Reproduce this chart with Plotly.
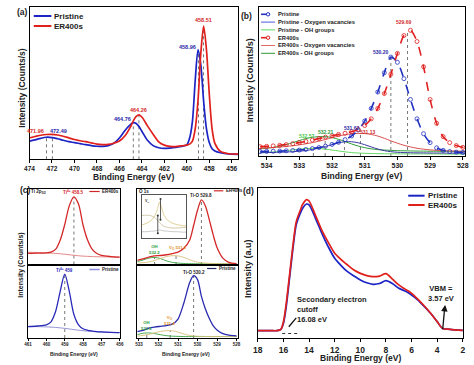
import plotly.graph_objects as go

W, H = 474, 365
FONT = "Liberation Sans, Arial, sans-serif"
TXT = "#222222"

# ---------------- panel (a): Ti 2p ----------------
a_x = [474.3, 474, 473.5, 473, 472.5, 472, 471.5, 471, 470.5, 470, 469.5, 469, 468.5, 468,
       467.5, 467, 466.5, 466, 465.5, 465, 464.75, 464.5, 464.25, 464, 463.5, 463, 462.5, 462,
       461.5, 461, 460.5, 460, 459.75, 459.5, 459.25, 459, 458.75, 458.5, 458.25, 458, 457.75,
       457.5, 457, 456.5, 456, 455.4]
a_pristine = [11.6, 12.0, 12.8, 13.8, 14.5, 14.3, 13.5, 12.5, 11.6, 11.0, 10.3, 9.6, 9.0, 8.6,
              8.5, 9.0, 10.5, 14.0, 19.0, 23.0, 24.1, 23.5, 21.5, 18.5, 12.5, 9.0, 7.6, 7.2,
              7.4, 7.8, 8.5, 9.5, 14, 25, 52, 72, 62, 38, 20, 11, 7.0,
              5.5, 4.3, 3.7, 3.4, 3.3]
a_er400s = [13.8, 14.2, 15.0, 15.8, 16.3, 16.4, 16.0, 15.2, 14.1, 13.0, 12.2, 11.6, 10.8, 10.0,
            9.7, 9.8, 10.6, 12.0, 15.5, 21.5, 25.5, 28.3, 29.2, 27.8, 22, 16.5, 11.5, 9.3,
            8.5, 8.3, 8.8, 9.3, 10, 12, 20, 39, 70, 87.7, 72, 43, 20,
            10.5, 5.2, 4.0, 3.5, 3.4]
a_peaks_pristine = [472.49, 464.76, 458.96]
a_heights_pristine = [14.5, 24.1, 72]
a_peaks_er400s = [471.96, 464.26, 458.51]
a_heights_er400s = [16.4, 29.2, 87.7]
a_ticks = [474, 472, 470, 468, 466, 464, 462, 460, 458, 456]

# ---------------- panel (b): O 1s ----------------
b_x = [534.2, 534.0, 533.8, 533.6, 533.4, 533.2, 533.0, 532.8, 532.6, 532.4, 532.2, 532.0,
       531.8, 531.6, 531.4, 531.2, 531.0, 530.8, 530.6, 530.4, 530.2, 530.0, 529.8, 529.6,
       529.4, 529.2, 529.0, 528.8, 528.6, 528.4, 528.2, 528.0, 527.8]
b_pristine = [3.0, 3.1, 3.2, 3.3, 3.5, 3.7, 4.0, 4.4, 5.0, 5.7, 6.6, 7.8, 9.2, 11.0, 13.5, 17.5,
              23.5, 32, 43, 56, 66.5, 63, 52, 38, 25, 15, 9, 5.5, 3.8, 3.0, 2.6, 2.4, 2.3]
b_pristine_ov = [2.2, 2.3, 2.4, 2.5, 2.7, 2.9, 3.2, 3.7, 4.4, 5.3, 6.4, 7.6, 8.8, 9.6, 9.6, 8.9,
                 7.6, 6.1, 4.7, 3.6, 2.9, 2.5, 2.3, 2.2, 2.1, 2.1, 2.0, 2.0, 2.0, 1.9, 1.9, 1.9, 1.9]
b_pristine_oh = [2.2, 2.4, 2.7, 3.1, 3.6, 4.1, 4.6, 5.0, 5.1, 5.0, 4.6, 4.0, 3.4, 2.8, 2.3, 2.0,
                 1.8, 1.7, 1.6, 1.5, 1.5, 1.5, 1.4, 1.4, 1.4, 1.4, 1.4, 1.4, 1.3, 1.3, 1.3, 1.3, 1.3]
b_er400s = [6.3, 6.5, 6.8, 7.2, 7.7, 8.3, 9.0, 9.8, 10.7, 11.7, 12.7, 13.6, 14.5, 15.3, 16.3, 17.8,
            20.5, 25, 32, 42, 55, 69, 81, 84.5, 77, 60, 38, 22, 13, 9, 7.0, 5.8, 5.3]
b_er400s_ov = [5.2, 5.4, 5.7, 6.0, 6.4, 6.9, 7.5, 8.2, 9.0, 10.0, 11.1, 12.3, 13.4, 14.3, 14.9, 15.2,
               15.1, 14.5, 13.4, 11.9, 10.2, 8.6, 7.2, 6.1, 5.2, 4.6, 4.1, 3.8, 3.6, 3.4, 3.3, 3.2, 3.2]
b_er400s_oh = [4.8, 5.2, 5.8, 6.6, 7.7, 9.0, 10.4, 11.7, 12.6, 13.0, 13.0, 12.4, 11.2, 9.7, 8.1, 6.7,
               5.6, 4.8, 4.3, 4.0, 3.8, 3.6, 3.5, 3.4, 3.3, 3.3, 3.2, 3.2, 3.1, 3.1, 3.1, 3.0, 3.0]
b_peaks = [532.57, 532.21, 531.62, 531.13, 530.20, 529.69]
b_heights = [5.1, 13.0, 9.6, 15.2, 66.5, 84.5]
b_ticks = [534, 533, 532, 531, 530, 529, 528]

# ---------------- panel (c): Ti 2p3/2 and O 1s fits ----------------
c_ti_x = [461, 460.5, 460, 459.75, 459.5, 459.25, 459, 458.75, 458.5, 458.25, 458, 457.75,
          457.5, 457.25, 457, 456.5, 456]
c_ti_er400s = [14.7, 15.0, 15.5, 16.5, 20, 32, 53, 78, 89.5, 80, 52, 32, 20, 14.5, 12, 10.5, 9.8]
c_ti_er400s_bg = [16.2, 15.9, 15.4, 15.1, 14.7, 14.2, 13.6, 12.9, 12.2, 11.6, 11.1, 10.8, 10.5,
                  10.3, 10.2, 10.0, 9.8]
c_ti_pristine = [15.5, 16.3, 18.0, 22, 36, 63, 87, 63, 32, 18, 12.5, 10.5, 9.5, 8.8, 8.3, 7.7, 7.3]
c_ti_pristine_bg = [15.8, 15.5, 15.1, 14.8, 14.4, 13.8, 13.1, 12.3, 11.4, 10.6, 9.9, 9.3, 8.8,
                    8.4, 8.1, 7.6, 7.3]
c_ti_ticks = [461, 460, 459, 458, 457, 456]

c_o_x = [533.1, 532.8, 532.5, 532.2, 531.9, 531.6, 531.3, 531.0, 530.7, 530.4, 530.2, 530.0,
         529.8, 529.6, 529.4, 529.2, 529.0, 528.7, 528.4, 528.0]
c_o_er400s = [6, 8, 10.5, 12, 12.5, 13.5, 15, 17, 22, 33, 52, 72, 85.7, 78, 60, 40, 23, 9, 3.5, 1.8]
c_o_er400s_oh = [4.5, 6.5, 9, 10, 8.5, 5.5, 3.5, 2.5, 2, 1.8, 1.7, 1.6, 1.6, 1.5, 1.5, 1.5, 1.5,
                 1.5, 1.5, 1.5]
c_o_er400s_vo = [2.5, 3, 4, 6, 8.5, 11, 12.3, 12, 10, 7, 5, 3.7, 3, 2.5, 2.2, 2, 1.8, 1.6, 1.5, 1.5]
c_o_pristine = [8.6, 10.5, 13.5, 15, 16, 17, 19, 26, 48, 76, 85.3, 80, 57, 40, 27, 17, 11, 6, 4, 3]
c_o_pristine_oh = [4.5, 6.5, 7, 6, 4.5, 3.2, 2.5, 2.2, 2, 2, 2, 2, 2, 2, 2, 2, 2, 2, 2, 2]
c_o_pristine_vo = [2.5, 3.5, 5, 7, 9, 10, 10, 8, 5.5, 3.5, 2.8, 2.4, 2.2, 2.1, 2, 2, 2, 2, 2, 2]
c_o_ticks = [533, 532, 531, 530, 529, 528]

inset_x = [0, 0.1, 0.2, 0.3, 0.35, 0.4, 0.45, 0.5, 0.6, 0.7, 0.8, 0.9, 1.0]
inset_a = [0.32, 0.36, 0.42, 0.56, 0.70, 0.88, 0.72, 0.56, 0.42, 0.36, 0.33, 0.31, 0.30]
inset_b = [0.55, 0.56, 0.55, 0.50, 0.44, 0.38, 0.33, 0.29, 0.26, 0.25, 0.25, 0.26, 0.27]
inset_c = [0.16, 0.16, 0.17, 0.18, 0.19, 0.20, 0.19, 0.18, 0.17, 0.16, 0.16, 0.15, 0.15]

# ---------------- panel (d): UPS ----------------
d_x = [18, 17, 16.5, 16.2, 16, 15.8, 15.5, 15.2, 15, 14.7, 14.5, 14.2, 14, 13.5, 13, 12.5, 12,
       11.5, 11, 10.5, 10, 9.5, 9, 8.5, 8, 7.5, 7, 6.5, 6, 5.5, 5, 4.5, 4, 3.57, 3, 2]
d_pristine = [5.1, 5.1, 5.1, 6, 10, 20, 42, 64, 75.6, 83, 86.7, 89.5, 88.9, 80, 70, 61, 53.3,
              48.5, 44.4, 41.5, 38.9, 37, 36, 36.5, 38.4, 36.5, 33.3, 31.5, 28.9, 25.5, 21.1,
              16.5, 11.1, 6.5, 6.0, 5.3]
d_er400s = [5.1, 5.1, 5.1, 6, 11, 22, 44, 66, 77.8, 85, 89.3, 92.5, 91.5, 82, 72, 64, 56.7,
            52.5, 48.9, 45.5, 43.3, 41.8, 41.1, 41.5, 43.1, 39.5, 35.6, 32.8, 30, 26, 21.5,
            16.5, 11.1, 6.5, 6.0, 5.3]
d_ticks = [18, 16, 14, 12, 10, 8, 6, 4, 2]

BLUE = "#1c24c4"
RED = "#e0201c"
GRAY = "#777777"


def px(x):
    return x / W


def py(y):
    return 1 - y / H


fig = go.Figure()
shapes = []
anns = []


def line(x, y, xa, ya, color, width=1.6, dash="solid"):
    fig.add_trace(go.Scatter(x=x, y=y, xaxis=xa, yaxis=ya, mode="lines", showlegend=False,
                             hoverinfo="skip",
                             line=dict(color=color, width=width, dash=dash, shape="spline",
                                       smoothing=0.8)))


def vdots(peaks, heights, xa, ya, color=GRAY, width=1):
    for p, h in zip(peaks, heights):
        fig.add_trace(go.Scatter(x=[p, p], y=[0, h], xaxis=xa, yaxis=ya, mode="lines",
                                 showlegend=False, hoverinfo="skip",
                                 line=dict(color=color, width=width, dash="dot")))


def ann(x, y, text, size, color=TXT, xanchor="center", yanchor="middle", xref="paper",
        yref="paper", angle=0, align="center", bold=True):
    if xref == "paper":
        x = px(x)
    if yref == "paper":
        y = py(y)
    anns.append(dict(x=x, y=y, xref=xref, yref=yref, text=text, showarrow=False,
                     textangle=angle, align=align, xanchor=xanchor, yanchor=yanchor,
                     borderpad=0,
                     font=dict(family=FONT, size=size, color=color,
                               weight="bold" if bold else "normal")))


def leg(x0, x1, y, color, text, size, width=2, dash="solid", marker=False, gap=2):
    shapes.append(dict(type="line", xref="paper", yref="paper", x0=px(x0), x1=px(x1),
                       y0=py(y), y1=py(y), line=dict(color=color, width=width, dash=dash)))
    if marker:
        cx = (x0 + x1) / 2
        r = 1.7
        shapes.append(dict(type="circle", xref="paper", yref="paper", x0=px(cx - r),
                           x1=px(cx + r), y0=py(y + r), y1=py(y - r),
                           line=dict(color=color, width=1), fillcolor="white"))
    ann(x1 + gap, y, text, size, xanchor="left")


def xax(dom, rng, ticks, size, labels=True):
    return dict(domain=[px(dom[0]), px(dom[1])], range=rng, tickvals=ticks if labels else [],
                ticks="outside", ticklen=3, tickwidth=1, tickcolor="black",
                showline=True, linecolor="black", linewidth=1, mirror=True,
                showgrid=False, zeroline=False, showticklabels=labels, fixedrange=True,
                tickfont=dict(family=FONT, size=size, color=TXT, weight="bold"))


def yax(top, bottom, rng=(0, 100), color="black", width=1):
    return dict(domain=[py(bottom), py(top)], range=list(rng), showticklabels=False,
                ticks="", showline=True, linecolor=color, linewidth=width, mirror=True,
                showgrid=False, zeroline=False, fixedrange=True)


# ---------- (a)
vdots(a_peaks_pristine, a_heights_pristine, "x", "y")
vdots(a_peaks_er400s, a_heights_er400s, "x", "y")
line(a_x, a_pristine, "x", "y", BLUE, 1.7)
line(a_x, a_er400s, "x", "y", RED, 1.7)
ann(472.6, 18.6, "471.96", 5.5, "#d42a2a", xanchor="right", xref="x", yref="y")
ann(472.25, 18.8, "472.49", 5.5, "#2a2aa8", xanchor="left", xref="x", yref="y")
ann(464.9, 26.5, "464.76", 5.5, "#2a2aa8", xanchor="right", xref="x", yref="y")
ann(464.26, 32.6, "464.26", 5.5, "#d42a2a", xref="x", yref="y")
ann(459.1, 73.7, "458.96", 5.5, "#2a2aa8", xanchor="right", xref="x", yref="y")
ann(458.51, 91.5, "458.51", 5.5, "#d42a2a", xref="x", yref="y")
leg(29.3, 47.3, 16, BLUE, "Pristine", 8)
leg(29.3, 47.3, 26, RED, "ER400s", 8)
ann(131, 177, "Binding Energy (eV)", 8.5)
ann(17, 88, "Intensity (Counts/s)", 8.5, angle=-90)
ann(17.5, 11.7, "(a)", 8.5)

# ---------- (b)
vdots(b_peaks, b_heights, "x2", "y2")
line(b_x, b_pristine_oh, "x2", "y2", "#62d862", 1)
line(b_x, b_er400s_oh, "x2", "y2", "#2e9a3a", 1)
line(b_x, b_pristine_ov, "x2", "y2", "#3a3aa0", 1)
line(b_x, b_er400s_ov, "x2", "y2", "#d85050", 1)
for yy, col in ((b_pristine, "#2231c0"), (b_er400s, "#e02020")):
    fig.add_trace(go.Scatter(x=b_x, y=yy, xaxis="x2", yaxis="y2", mode="lines+markers",
                             showlegend=False, hoverinfo="skip",
                             line=dict(color=col, width=1.6, dash="dash", shape="spline",
                                       smoothing=0.8),
                             marker=dict(symbol="circle-open", size=4, color=col,
                                         line=dict(width=0.8, color=col))))
ann(532.77, 13.4, "532.57", 5, "#4cc84c", xref="x2", yref="y2")
ann(532.17, 15.9, "532.21", 5, "#2e9a3a", xref="x2", yref="y2")
ann(531.4, 19.0, "531.62", 5, "#2a2aa0", xref="x2", yref="y2")
ann(530.9, 15.9, "531.13", 5, "#d03030", xref="x2", yref="y2")
ann(530.5, 70.0, "530.20", 5, "#2a2aa8", xref="x2", yref="y2")
ann(529.8, 89.8, "529.69", 5, "#d42a2a", xref="x2", yref="y2")
b_leg = [("Pristine", "#2231c0", 1.6, "dash", True),
         ("Pristine - Oxygen vacancies", "#4a5ad8", 1, "solid", False),
         ("Pristine - OH groups", "#62d862", 1, "solid", False),
         ("ER400s", "#e02020", 1.6, "dash", True),
         ("ER400s - Oxygen vacancies", "#e06a6a", 1, "solid", False),
         ("ER400s - OH groups", "#2e9a3a", 1, "solid", False)]
for i, (t, c, w, d, m) in enumerate(b_leg):
    leg(261, 275.3, 14.3 + 7.8 * i, c, t, 5.8, width=w, dash=d, marker=m)
ann(363, 175.5, "Binding Energy (eV)", 8.5)
ann(250, 80, "Intensity (Counts/s)", 9, angle=-90)
ann(246, 16, "(b)", 8.5)

# ---------- (c) Ti 2p3/2
vdots([458.5], [89.5], "x3", "y3")
vdots([459], [87], "x4", "y4")
line(c_ti_x, c_ti_er400s_bg, "x3", "y3", "#e07878", 0.9)
line(c_ti_x, c_ti_er400s, "x3", "y3", "#d42828", 1.3)
line(c_ti_x, c_ti_pristine_bg, "x4", "y4", "#8888d0", 0.9)
line(c_ti_x, c_ti_pristine, "x4", "y4", "#2a2ab8", 1.3)
ann(25, 191.5, "Ti 2p<sub>3/2</sub>", 4.5, xanchor="left")
ann(458.5, 95.5, "Ti<sup>4+</sup> 458.5", 4.5, "#d42828", xref="x3", yref="y3")
ann(459, 93, "Ti<sup>4+</sup> 459", 4.5, "#2a2ab8", xref="x4", yref="y4")
leg(86, 96.5, 191.5, "#d42828", "ER400s", 4.5, width=1.2, gap=1.5)
leg(86, 96.5, 269.5, "#8f8fe0", "Pristine", 4.5, width=1.5, gap=1.5)
ann(70, 354, "Binding Energy (eV)", 5)

# ---------- (c) O 1s
vdots([532.2, 531.1, 529.8], [10, 12.3, 85.7], "x5", "y5")
vdots([532.6, 531.4, 530.2], [7, 10, 85.3], "x6", "y6")
line(c_o_x, c_o_er400s_oh, "x5", "y5", "#3aa040", 0.9)
line(c_o_x, c_o_er400s_vo, "x5", "y5", "#d8c07a", 0.9)
line(c_o_x, c_o_er400s, "x5", "y5", "#d42828", 1.3)
line(c_o_x, c_o_pristine_oh, "x6", "y6", "#3aa040", 0.9)
line(c_o_x, c_o_pristine_vo, "x6", "y6", "#d8c07a", 0.9)
line(c_o_x, c_o_pristine, "x6", "y6", "#2a2ab0", 1.3)
ann(135.8, 191.5, "O 1s", 4.5, xanchor="left")
ann(529.8, 91.2, "Ti-O 529.8", 4.5, xref="x5", yref="y5")
ann(532.2, 21, "OH<br>532.2", 4.3, "#2e9a3a", xref="x5", yref="y5")
ann(531.0, 23, "V<sub>O</sub> 531.1", 4.3, "#e0901c", xref="x5", yref="y5")
ann(530.2, 90.4, "Ti-O 530.2", 4.5, xref="x6", yref="y6")
ann(532.6, 16.5, "OH<br>532.6", 4.3, "#2e9a3a", xref="x6", yref="y6")
ann(531.45, 23.5, "V<sub>O</sub><br>531.4", 4.3, "#e0901c", xref="x6", yref="y6")
leg(213, 222.5, 190.8, "#d42828", "ER400s", 4.5, width=1.2, gap=1.5)
leg(206, 215.5, 268.5, "#23236a", "Pristine", 4.5, width=1.2, gap=1.5)
ann(185, 354, "Binding Energy (eV)", 5)
ann(16, 265, "Intensity (Counts/s)", 7, angle=-90)
ann(21, 190, "(c)", 8.5)

# inset
line(inset_x, inset_c, "x7", "y7", "#bdbdbd", 0.8)
line(inset_x, inset_b, "x7", "y7", "#c8bd98", 0.8)
line(inset_x, inset_a, "x7", "y7", "#dccb8c", 0.9)
fig.add_trace(go.Scatter(x=[0.42, 0.42], y=[0.45, 0.95], xaxis="x7", yaxis="y7",
                         mode="lines+markers", showlegend=False, hoverinfo="skip",
                         line=dict(color="#333", width=0.8), marker=dict(size=2, color="#333")))
fig.add_trace(go.Scatter(x=[0.36, 0.36], y=[0.12, 0.55], xaxis="x7", yaxis="y7",
                         mode="lines+markers", showlegend=False, hoverinfo="skip",
                         line=dict(color="#333", width=0.8), marker=dict(size=2, color="#333")))
ann(0.06, 0.9, "V<sub>O</sub>", 3.5, xref="x7", yref="y7", xanchor="left")

# ---------- (d)
line(d_x, d_pristine, "x8", "y8", BLUE, 1.7)
line(d_x, d_er400s, "x8", "y8", RED, 1.7)
shapes.append(dict(type="line", xref="x8", yref="y8", x0=16.1, x1=14.8, y0=3.2, y1=3.2,
                   line=dict(color="#333", width=1, dash="dot")))
shapes.append(dict(type="line", xref="x8", yref="y8", x0=15.58, y0=7.7, x1=15.0, y1=13.6,
                   line=dict(color="#111", width=1.3)))
shapes.append(dict(type="line", xref="x8", yref="y8", x0=3.57, y0=6.0, x1=3.41, y1=21.0,
                   line=dict(color="#111", width=1.3)))
anns.append(dict(x=14.94, y=14.4, ax=15.1, ay=12.6, xref="x8", yref="y8", axref="x8",
                 ayref="y8", text=" ", showarrow=True, arrowhead=2, arrowsize=1,
                 arrowwidth=1.3, arrowcolor="#111", font=dict(size=1)))
anns.append(dict(x=3.38, y=22.2, ax=3.42, ay=19.5, xref="x8", yref="y8", axref="x8",
                 ayref="y8", text=" ", showarrow=True, arrowhead=2, arrowsize=1,
                 arrowwidth=1.3, arrowcolor="#111", font=dict(size=1)))
ann(15.01, 18.9, "Secondary electron<br>cutoff<br>16.08 eV", 7.5, xanchor="left",
    xref="x8", yref="y8", align="left")
ann(3.68, 30.2, "VBM =<br>3.57 eV", 7.5, xref="x8", yref="y8")
leg(411, 427.7, 195.7, BLUE, "Pristine", 8)
leg(411, 427.7, 205, RED, "ER400s", 8)
ann(362.7, 357.5, "Binding Energy (eV)", 8.5)
ann(247.7, 268, "Intensity (a.u)", 9, angle=-90)
ann(248, 191, "(d)", 8.5)

fig.update_layout(
    width=W, height=H, margin=dict(l=0, r=0, t=0, b=0),
    paper_bgcolor="white", plot_bgcolor="white", showlegend=False,
    xaxis=dict(xax((25, 238), [474, 455.4], a_ticks, 6.5), anchor="y"),
    yaxis=dict(yax(7.3, 159.3), anchor="x"),
    xaxis2=dict(xax((258.7, 469.3), [534.24, 527.92], b_ticks, 7), anchor="y2"),
    yaxis2=dict(yax(7.3, 156), anchor="x2"),
    xaxis3=dict(xax((23.5, 117), [461, 456], c_ti_ticks, 4.5, labels=False), anchor="y3",
                ticks=""),
    yaxis3=dict(yax(189, 264.5), anchor="x3"),
    xaxis4=dict(xax((23.5, 117), [461, 456], c_ti_ticks, 4.5), anchor="y4", ticklen=2),
    yaxis4=dict(yax(264.5, 338), anchor="x4"),
    xaxis5=dict(xax((135, 237), [533.08, 527.95], c_o_ticks, 4.5, labels=False), anchor="y5",
                ticks=""),
    yaxis5=dict(yax(189, 265), anchor="x5"),
    xaxis6=dict(xax((135, 237), [533.08, 527.95], c_o_ticks, 4.5), anchor="y6", ticklen=2),
    yaxis6=dict(yax(265, 338), anchor="x6"),
    xaxis7=dict(domain=[px(139.3), px(185)], range=[0, 1], showline=True, mirror=True,
                linecolor="#555", linewidth=0.8, ticks="", showticklabels=False,
                tickvals=[], showgrid=False, zeroline=False, anchor="y7", fixedrange=True),
    yaxis7=dict(domain=[py(238.3), py(195)], range=[0, 1.05], showline=True, mirror=True,
                linecolor="#555", linewidth=0.8, ticks="", showticklabels=False,
                tickvals=[], showgrid=False, zeroline=False, anchor="x7", fixedrange=True),
    xaxis8=dict(xax((257.7, 466.7), [18, 2], d_ticks, 8.5), anchor="y8"),
    yaxis8=dict(yax(188.3, 338.3), anchor="x8"),
    shapes=shapes, annotations=anns,
)

fig.write_html("out.html", config={"displayModeBar": False},
               post_script="document.body.style.margin='0px';")
